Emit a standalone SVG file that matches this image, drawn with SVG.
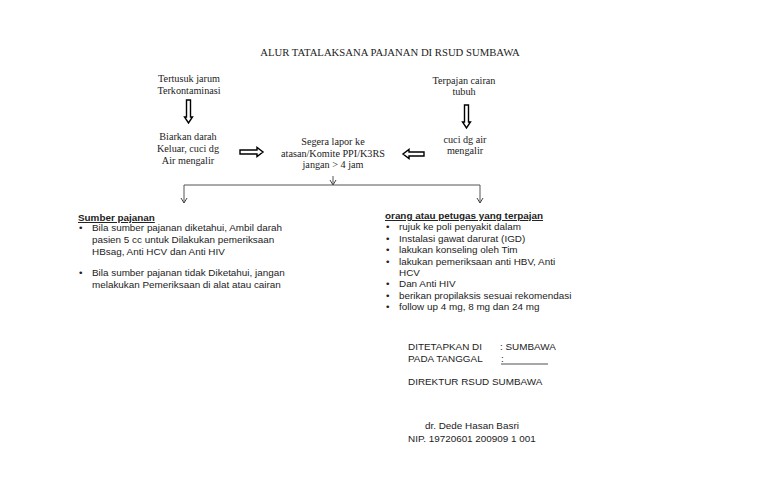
<svg xmlns="http://www.w3.org/2000/svg" width="768" height="503" viewBox="0 0 768 503">
<defs>
<style>
.s{font-family:"Liberation Serif","Times New Roman",serif;font-size:10.2px;fill:#222;}
.t{font-family:"Liberation Serif","Times New Roman",serif;font-size:10.7px;fill:#222;}
.a{font-family:"Liberation Sans",Arial,sans-serif;font-size:9.9px;fill:#222;}
.b{font-weight:bold;text-decoration:underline;}
.arr{fill:#fff;stroke:#000;stroke-width:1.4;}
.ln{fill:none;stroke:#555;stroke-width:1;}
</style>
<marker id="m" markerWidth="8" markerHeight="8" refX="7" refY="4" orient="auto-start-reverse" markerUnits="userSpaceOnUse" viewBox="0 0 8 8">
<path d="M2,1 L7,4 L2,7" fill="none" stroke="#444" stroke-width="1"/>
</marker>
</defs>
<rect width="768" height="503" fill="#fff"/>
<text class="t" x="390" y="56" text-anchor="middle">ALUR TATALAKSANA PAJANAN DI RSUD SUMBAWA</text>

<g id="n1"><text class="s" text-anchor="middle" x="189" y="82">Tertusuk jarum</text><text class="s" text-anchor="middle" x="189" y="94">Terkontaminasi</text></g>
<g id="n2"><text class="s" text-anchor="middle" x="188" y="140">Biarkan darah</text><text class="s" text-anchor="middle" x="188" y="152">Keluar, cuci dg</text><text class="s" text-anchor="middle" x="188" y="164">Air mengalir</text></g>
<g id="n3"><text class="s" text-anchor="middle" x="333" y="145">Segera lapor ke</text><text class="s" text-anchor="middle" x="333" y="157">atasan/Komite PPI/K3RS</text><text class="s" text-anchor="middle" x="333" y="168">jangan &gt; 4 jam</text></g>
<g id="n4"><text class="s" text-anchor="middle" x="464" y="84">Terpajan cairan</text><text class="s" text-anchor="middle" x="464" y="95">tubuh</text></g>
<g id="n5"><text class="s" text-anchor="middle" x="465" y="143">cuci dg air</text><text class="s" text-anchor="middle" x="465" y="154">mengalir</text></g>

<g id="connectors">
<path class="arr" d="M186.5,100 L190.5,100 L190.5,117 L192.5,117 L188.5,123 L184.5,117 L186.5,117 Z"/>
<path class="arr" d="M464.5,105 L468.5,105 L468.5,122 L470.5,122 L466.5,128 L462.5,122 L464.5,122 Z"/>
<path class="arr" d="M240,150 L257,150 L257,147.5 L263,152 L257,156.5 L257,154 L240,154 Z"/>
<path class="arr" d="M424,152 L409,152 L409,149.5 L403,154 L409,158.5 L409,156 L424,156 Z"/>
<path class="ln" d="M333,176 L333,185" marker-end="url(#m)"/>
<path class="ln" d="M184,203 L184,185 L480,185 L480,203" marker-start="url(#m)" marker-end="url(#m)"/>
</g>

<g id="left">
<text class="a b" x="78" y="221">Sumber pajanan</text>
<text class="a" x="79" y="231">•</text><text class="a" x="92" y="231">Bila sumber pajanan diketahui, Ambil darah</text>
<text class="a" x="92" y="243">pasien 5 cc untuk Dilakukan pemeriksaan</text>
<text class="a" x="92" y="255">HBsag, Anti HCV dan Anti HIV</text>
<text class="a" x="79" y="276">•</text><text class="a" x="92" y="276">Bila sumber pajanan tidak Diketahui, jangan</text>
<text class="a" x="92" y="288">melakukan Pemeriksaan di alat atau cairan</text>
</g>

<g id="right">
<text class="a b" x="385" y="219">orang atau petugas yang terpajan</text>
<text class="a" x="386" y="230">•</text><text class="a" x="399" y="230">rujuk ke poli penyakit dalam</text>
<text class="a" x="386" y="242">•</text><text class="a" x="399" y="242">Instalasi gawat darurat (IGD)</text>
<text class="a" x="386" y="253">•</text><text class="a" x="399" y="253">lakukan konseling oleh Tim</text>
<text class="a" x="386" y="265">•</text><text class="a" x="399" y="265">lakukan pemeriksaan anti HBV, Anti</text>
<text class="a" x="399" y="276">HCV</text>
<text class="a" x="386" y="287">•</text><text class="a" x="399" y="287">Dan Anti HIV</text>
<text class="a" x="386" y="299">•</text><text class="a" x="399" y="299">berikan propilaksis sesuai rekomendasi</text>
<text class="a" x="386" y="310">•</text><text class="a" x="399" y="310">follow up 4 mg, 8 mg dan 24 mg</text>
</g>

<g id="sign">
<text class="a" x="408" y="350">DITETAPKAN DI</text><text class="a" x="500" y="350">: SUMBAWA</text>
<text class="a" x="408" y="362">PADA TANGGAL</text><text class="a" x="501" y="362">:</text>
<line x1="501" y1="364" x2="548" y2="364" stroke="#222" stroke-width="0.8"/>
<text class="a" x="408" y="385">DIREKTUR RSUD SUMBAWA</text>
<text class="a" x="425" y="429">dr. Dede Hasan Basri</text>
<text class="a" x="408" y="442">NIP. 19720601 200909 1 001</text>
</g>
</svg>
